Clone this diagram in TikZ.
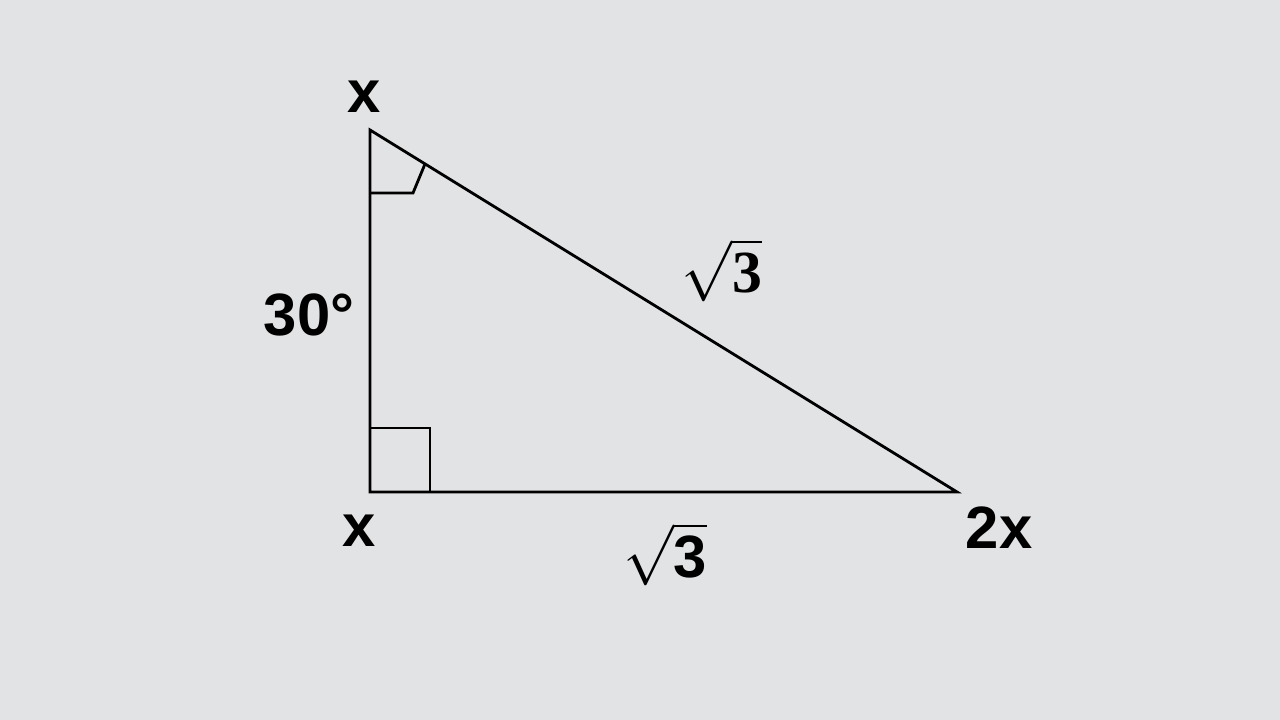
\documentclass[tikz,border=0pt]{standalone}
\usepackage{fontspec}
\setmainfont{Liberation Sans}
\newfontfamily\hypfont{Liberation Serif}
\definecolor{paper}{RGB}{226,227,229}
\tikzset{
  lbl/.style={inner sep=0pt,font=\fontsize{17}{20}\selectfont\bfseries},
  edge/.style={line width=0.8pt,black,line join=miter},
}
\begin{document}
\begin{tikzpicture}
 \useasboundingbox (0,0) rectangle (12.8,7.2);
 \fill[paper](0,0) rectangle (12.8,7.2);
 % vertices
 \coordinate (A) at (3.70,5.90);
 \coordinate (B) at (3.70,2.28);
 \coordinate (C) at (9.57,2.28);
 \draw[edge](A)--(B)--(C)--cycle;
 % angle marks
 \draw[edge](3.70,5.27)--(4.13,5.27)--(4.25,5.56);
 \draw[edge](3.70,2.92)--(4.30,2.92)--(4.30,2.28);
 % labels
 \node[lbl] (xtop) at (3.64,6.23) {x};
 \node[lbl] (ang) at (3.09,4.05) {30°};
 \node[lbl] (hyp) at (7.22,4.50) {$\sqrt{\hbox{\hypfont\bfseries 3}}$};
 \node[lbl] (xbot) at (3.59,1.89) {x};
 \node[lbl] (base) at (6.65,1.66) {$\sqrt{\hbox{\bfseries 3}}$};
 \node[lbl] (xtwo) at (9.99,1.92) {2x};
\end{tikzpicture}
\end{document}
